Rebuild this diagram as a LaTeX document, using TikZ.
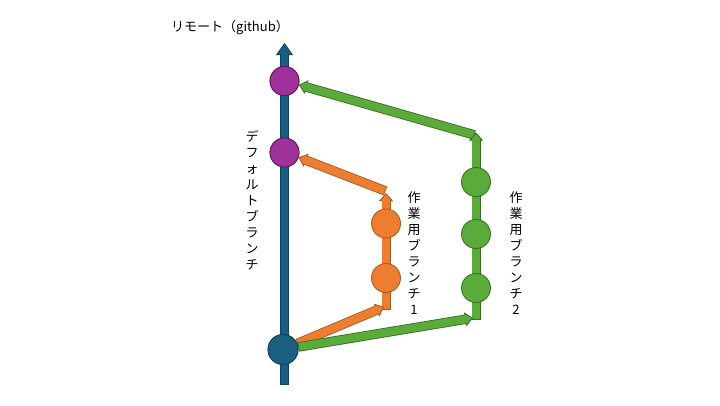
\documentclass[tikz,border=0pt]{standalone}
\usepackage{fontspec}
\newfontfamily\jp{Noto Sans CJK JP}
\usetikzlibrary{arrows.meta,calc}
\definecolor{cblue}{HTML}{1B5F80}
\definecolor{cblueD}{HTML}{0F4260}
\definecolor{cpurp}{HTML}{A0309A}
\definecolor{cpurpD}{HTML}{5A1A56}
\definecolor{corg}{HTML}{ED7D31}
\definecolor{corgD}{HTML}{A85620}
\definecolor{cgrn}{HTML}{5BAA3B}
\definecolor{cgrnD}{HTML}{356E22}
% block arrow: fill, outline, outer width, inner width, head length, head width, from, to
\newcommand\blockarr[8]{%
  \pgfmathsetlengthmacro\shA{#5-0.5pt}%
  \pgfmathsetlengthmacro\shB{#5-1.5pt}%
  \draw[line width=#3, draw=#2, shorten >=\shA] (#7) -- (#8);
  \draw[line width=0.8pt, draw=#2, -{Triangle[length=#5,width=#6,fill=#1]}] ($(#8)!#5!(#7)$) -- (#8);
  \draw[line width=#4, draw=#1, shorten >=\shB, shorten <=0.8pt] (#7) -- (#8);
}
\begin{document}
\begin{tikzpicture}[x=1pt,y=-1pt,
  commit/.style 2 args={circle, fill=#1, draw=#2, line width=0.8pt, minimum size=29pt, inner sep=0pt},
  vlabel/.style={font=\jp\fontsize{13}{16}\selectfont, align=center, inner sep=0pt},
  hlabel/.style={font=\jp\fontsize{13}{16}\selectfont, inner sep=0pt}]
\fill[white] (0,0) rectangle (720,405);
\useasboundingbox (0,0) rectangle (720,405);

% coordinates
\coordinate (bbot) at (284.5,385);
\coordinate (btop) at (284.5,43);
\coordinate (obot) at (386,310);
\coordinate (otop) at (386,193);
\coordinate (os) at (385.5,191);
\coordinate (otip) at (384,307);
\coordinate (gbot) at (476,320);
\coordinate (gtop) at (476,132.5);
\coordinate (gs) at (474.5,135);
\coordinate (gtip) at (473,318);

% commit centres
\path (284.5,81) coordinate (p1c) (284.5,152.5) coordinate (p2c) (283,349.5) coordinate (b0c);

% main branch
\blockarr{cblue}{cblueD}{9pt}{7.4pt}{12pt}{17pt}{bbot}{btop}

\node[commit={cpurp}{cpurpD}] (p1) at (p1c) {};
\node[commit={cpurp}{cpurpD}] (p2) at (p2c) {};
\node[commit={cblue}{cblueD}, minimum size=30pt] (b0) at (b0c) {};

% merges
\blockarr{cgrn}{cgrnD}{9.5pt}{7.9pt}{8pt}{14pt}{gs}{p1.-15}
\blockarr{corg}{corgD}{9.5pt}{7.9pt}{8pt}{14pt}{os}{p2.-19}

% branch lines
\blockarr{corg}{corgD}{9pt}{7.4pt}{8pt}{14pt}{obot}{otop}
\blockarr{cgrn}{cgrnD}{9pt}{7.4pt}{8pt}{14pt}{gbot}{gtop}

% branch starts
\blockarr{corg}{corgD}{9.5pt}{7.9pt}{8pt}{14pt}{b0}{otip}
\blockarr{cgrn}{cgrnD}{9.5pt}{7.9pt}{8pt}{14pt}{b0}{gtip}

% commits on top
\node[commit={cpurp}{cpurpD}] at (p1c) {};
\node[commit={cpurp}{cpurpD}] at (p2c) {};
\node[commit={cblue}{cblueD}, minimum size=30pt] at (b0c) {};
\node[commit={corg}{corgD}] (o1) at (386,223.5) {};
\node[commit={corg}{corgD}] (o2) at (386,278) {};
\node[commit={cgrn}{cgrnD}] (g1) at (476,182) {};
\node[commit={cgrn}{cgrnD}] (g2) at (476,234) {};
\node[commit={cgrn}{cgrnD}] (g3) at (476,288) {};

% labels
\node[hlabel] (lrem) at (230,27.5) {リモート（github）};
\node[vlabel] (ldef) at (252,200) {デ\\フ\\ォ\\ル\\ト\\ブ\\ラ\\ン\\チ};
\node[vlabel] (lb1) at (414,253) {作\\業\\用\\ブ\\ラ\\ン\\チ\\1};
\node[vlabel] (lb2) at (516,253) {作\\業\\用\\ブ\\ラ\\ン\\チ\\2};
\end{tikzpicture}
\end{document}
